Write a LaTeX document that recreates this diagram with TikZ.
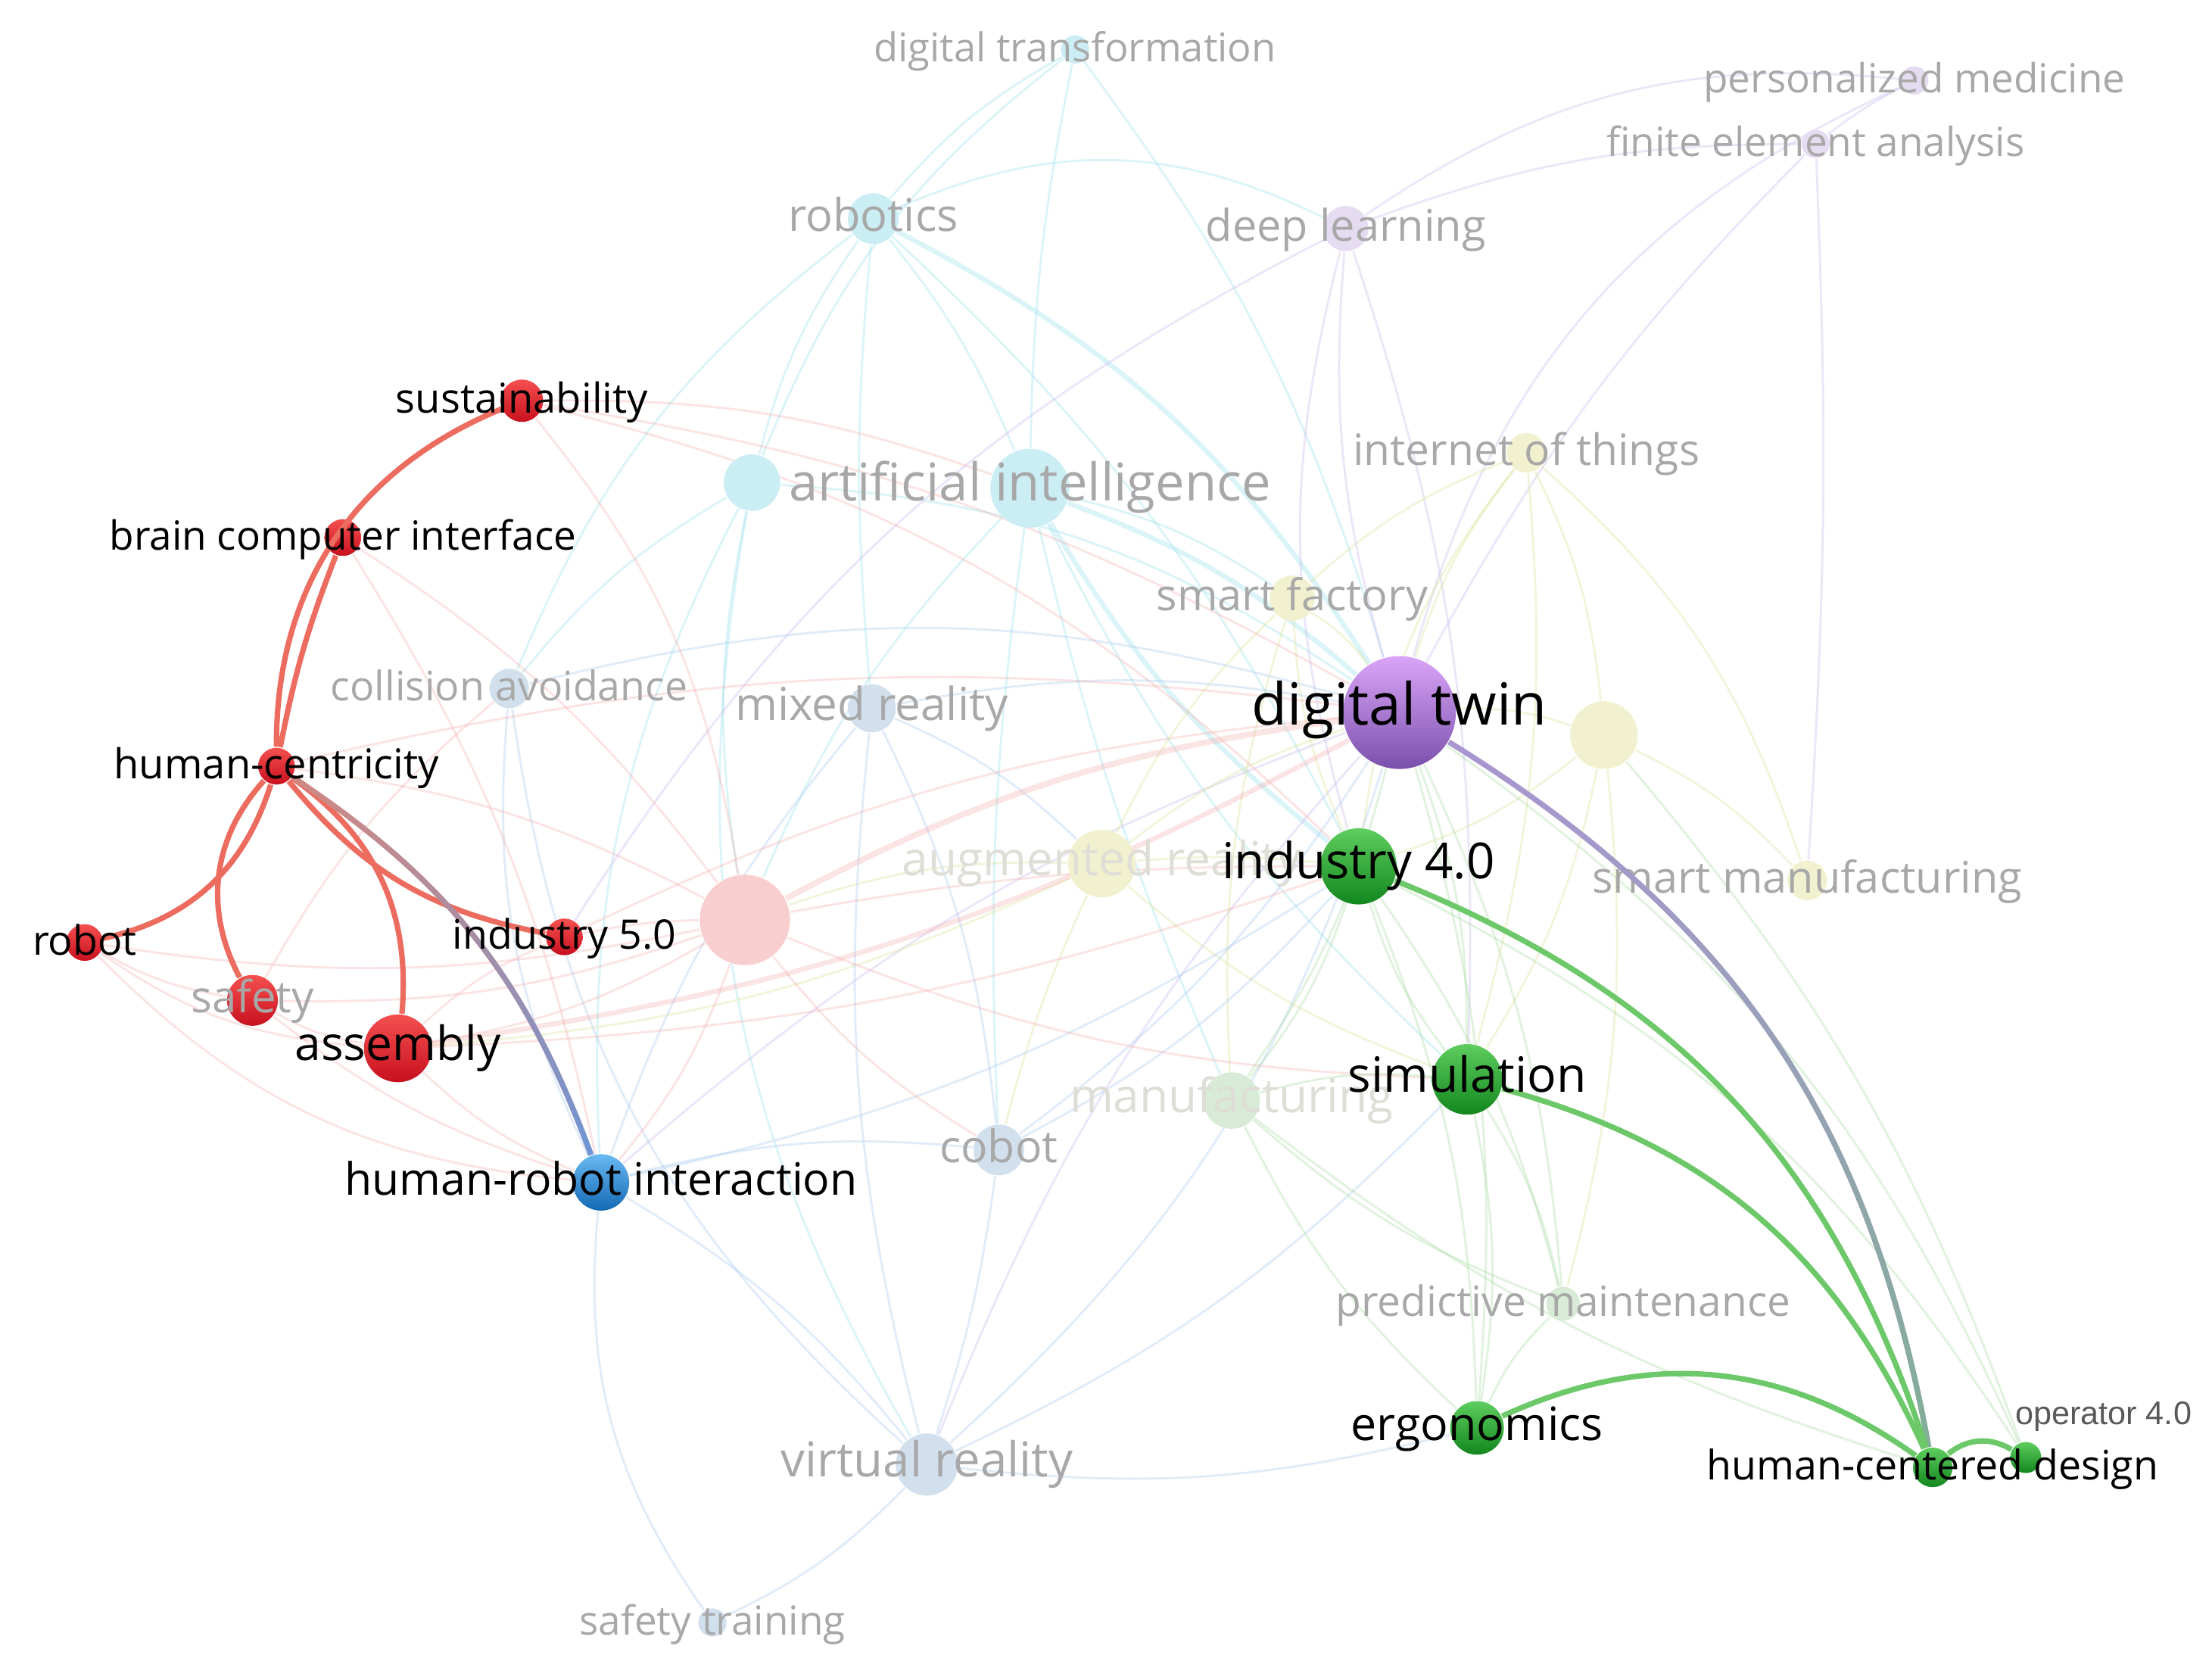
\documentclass[tikz,border=0pt]{standalone}
\usepackage{fontspec}
\setmainfont{Open Sans}
\newfontfamily\arialfont{Liberation Sans}
\usepackage{tikz}
\usetikzlibrary{fadings}

\pgfdeclarelayer{back}
\pgfdeclarelayer{front}
\pgfdeclarelayer{top}
\pgfsetlayers{back,main,front,top}

\definecolor{red_t}{RGB}{245,80,80}
\definecolor{red_b}{RGB}{200,16,30}
\definecolor{green_t}{RGB}{95,205,95}
\definecolor{green_b}{RGB}{18,135,30}
\definecolor{purple_t}{RGB}{218,165,248}
\definecolor{purple_b}{RGB}{122,80,172}
\definecolor{blue_t}{RGB}{105,185,242}
\definecolor{blue_b}{RGB}{20,105,180}
\definecolor{f_cyan}{RGB}{202,238,243}
\definecolor{f_purple}{RGB}{230,220,241}
\definecolor{f_yellow}{RGB}{241,241,208}
\definecolor{f_blue}{RGB}{210,224,238}
\definecolor{f_pink}{RGB}{248,206,206}
\definecolor{f_green}{RGB}{216,235,214}
\definecolor{lab_g}{RGB}{168,168,168}
\definecolor{lab_f}{RGB}{222,222,214}
\definecolor{e_red}{RGB}{236,108,96}
\definecolor{e_green}{RGB}{108,200,104}
\definecolor{e_purple}{RGB}{170,150,210}
\definecolor{e_blue}{RGB}{110,150,215}
\definecolor{e_grey}{RGB}{130,175,150}
\definecolor{ef_cyan}{RGB}{160,225,236}
\definecolor{ef_purple}{RGB}{205,188,238}
\definecolor{ef_yellow}{RGB}{222,228,160}
\definecolor{ef_blue}{RGB}{175,205,240}
\definecolor{ef_pink}{RGB}{244,170,170}
\definecolor{ef_green}{RGB}{175,220,170}

\begin{document}
\begin{tikzpicture}[
		node_red/.style={circle,inner sep=0pt,top color=red_t,bottom color=red_b},
		node_green/.style={circle,inner sep=0pt,top color=green_t,bottom color=green_b},
		node_purple/.style={circle,inner sep=0pt,top color=purple_t,bottom color=purple_b},
		node_blue/.style={circle,inner sep=0pt,top color=blue_t,bottom color=blue_b},
		node_faint/.style={circle,inner sep=0pt,draw=none},
		lab_dark/.style={text=black,inner sep=0pt,text height=0.72em,text depth=0.22em},
		lab_grey/.style={text=lab_g,inner sep=0pt,text height=0.72em,text depth=0.22em},
		edge_red/.style={draw=e_red,line width=1.1pt},
		edge_green/.style={draw=e_green,line width=1.1pt},
		edge_cyan/.style={draw=ef_cyan,line width=0.45pt,opacity=0.38},
		edge_purple/.style={draw=ef_purple,line width=0.45pt,opacity=0.38},
		edge_yellow/.style={draw=ef_yellow,line width=0.45pt,opacity=0.38},
		edge_blue/.style={draw=ef_blue,line width=0.45pt,opacity=0.38},
		edge_pink/.style={draw=ef_pink,line width=0.45pt,opacity=0.32},
		edge_lgreen/.style={draw=ef_green,line width=0.45pt,opacity=0.38}]

		\useasboundingbox (0,0) rectangle (15.68,-11.86);

		% faint clusters
		\node[node_faint,fill=f_cyan,minimum size=0.20cm] (dig_trans) at (7.62,-0.35) {};
		\node[node_faint,fill=f_cyan,minimum size=0.36cm] (robotics) at (6.19,-1.55) {};
		\node[node_faint,fill=f_cyan,minimum size=0.56cm] (art_int) at (7.30,-3.46) {};
		\node[node_faint,fill=f_cyan,minimum size=0.40cm] (ai_b) at (5.33,-3.42) {};
		\node[node_faint,fill=f_purple,minimum size=0.20cm] (pers_med) at (13.57,-0.57) {};
		\node[node_faint,fill=f_purple,minimum size=0.20cm] (fin_elem) at (12.87,-1.02) {};
		\node[node_faint,fill=f_purple,minimum size=0.32cm] (deep_learn) at (9.54,-1.62) {};
		\node[node_faint,fill=f_yellow,minimum size=0.28cm] (iot) at (10.82,-3.21) {};
		\node[node_faint,fill=f_yellow,minimum size=0.32cm] (smart_fac) at (9.16,-4.24) {};
		\node[node_faint,fill=f_yellow,minimum size=0.48cm] (yel_b) at (11.37,-5.21) {};
		\node[node_faint,fill=f_yellow,minimum size=0.48cm] (aug_real) at (7.81,-6.12) {};
		\node[node_faint,fill=f_yellow,minimum size=0.28cm] (smart_man) at (12.81,-6.24) {};
		\node[node_faint,fill=f_blue,minimum size=0.28cm] (coll_av) at (3.61,-4.88) {};
		\node[node_faint,fill=f_blue,minimum size=0.34cm] (mixed_real) at (6.18,-5.02) {};
		\node[node_faint,fill=f_blue,minimum size=0.36cm] (cobot) at (7.08,-8.15) {};
		\node[node_faint,fill=f_blue,minimum size=0.44cm] (virt_real) at (6.57,-10.38) {};
		\node[node_faint,fill=f_blue,minimum size=0.20cm] (safety_tr) at (5.05,-11.50) {};
		\node[node_faint,fill=f_pink,minimum size=0.64cm] (pink_b) at (5.28,-6.52) {};
		\node[node_faint,fill=f_green,minimum size=0.40cm] (manufact) at (8.73,-7.80) {};
		\node[node_faint,fill=f_green,minimum size=0.24cm] (pred_main) at (11.08,-9.24) {};

		\node[lab_grey,font=\fontsize{8}{9}\selectfont] (dig_trans_l) at (dig_trans) {digital transformation};
		\node[lab_grey,font=\fontsize{9.1}{10}\selectfont] (robotics_l) at (robotics) {robotics};
		\node[lab_grey,font=\fontsize{10.5}{12}\selectfont] (art_int_l) at (art_int) {artificial intelligence};
		\node[lab_grey,font=\fontsize{8.1}{9}\selectfont] (pers_med_l) at (pers_med) {personalized medicine};
		\node[lab_grey,font=\fontsize{8.1}{9}\selectfont] (fin_elem_l) at (fin_elem) {finite element analysis};
		\node[lab_grey,font=\fontsize{8.8}{10}\selectfont] (deep_learn_l) at (deep_learn) {deep learning};
		\node[lab_grey,font=\fontsize{8.7}{10}\selectfont] (iot_l) at (iot) {internet of things};
		\node[lab_grey,font=\fontsize{8.8}{10}\selectfont] (smart_fac_l) at (smart_fac) {smart factory};
		\node[lab_grey,font=\fontsize{8.8}{10}\selectfont] (smart_man_l) at (smart_man) {smart manufacturing};
		\node[lab_grey,font=\fontsize{8.2}{9}\selectfont] (coll_av_l) at (coll_av) {collision avoidance};
		\node[lab_grey,font=\fontsize{9.2}{10}\selectfont] (mixed_real_l) at (mixed_real) {mixed reality};
		\node[lab_grey,font=\fontsize{9}{10}\selectfont] (cobot_l) at (cobot) {cobot};
		\node[lab_grey,font=\fontsize{9.7}{11}\selectfont] (virt_real_l) at (virt_real) {virtual reality};
		\node[lab_grey,font=\fontsize{8.1}{9}\selectfont] (safety_tr_l) at (safety_tr) {safety training};
		\node[lab_grey,text=lab_f,font=\fontsize{9.5}{11}\selectfont] (manufact_l) at (manufact) {manufacturing};
		\node[lab_grey,font=\fontsize{8.4}{9}\selectfont] (pred_main_l) at (pred_main) {predictive maintenance};
		\node[lab_grey,text=lab_f,font=\fontsize{9.5}{11}\selectfont] (aug_real_l) at (aug_real) {augmented reality};

		% highlighted nodes
		\begin{pgfonlayer}{front}
		\node[node_red,minimum size=0.30cm] (sustain) at (3.70,-2.84) {};
		\node[node_red,minimum size=0.26cm] (bci) at (2.43,-3.81) {};
		\node[node_red,minimum size=0.26cm] (human_cen) at (1.96,-5.43) {};
		\node[node_red,minimum size=0.26cm] (robot) at (0.60,-6.68) {};
		\node[node_red,minimum size=0.36cm] (safety) at (1.79,-7.09) {};
		\node[node_red,minimum size=0.48cm] (assembly) at (2.82,-7.43) {};
		\node[node_red,minimum size=0.26cm] (ind_50) at (4.00,-6.64) {};
		\node[node_blue,minimum size=0.40cm] (hri) at (4.26,-8.38) {};
		\node[node_purple,minimum size=0.80cm] (dig_twin) at (9.92,-5.05) {};
		\node[node_green,minimum size=0.54cm] (ind_40) at (9.63,-6.14) {};
		\node[node_green,minimum size=0.50cm] (simul) at (10.40,-7.65) {};
		\node[node_green,minimum size=0.38cm] (ergo) at (10.47,-10.12) {};
		\node[node_green,minimum size=0.28cm] (hcd) at (13.70,-10.40) {};
		\node[node_green,minimum size=0.22cm] (op_40) at (14.36,-10.33) {};
		\end{pgfonlayer}

		\begin{pgfonlayer}{top}
		\node[lab_dark,font=\fontsize{8.3}{9}\selectfont] (sustain_l) at (sustain) {sustainability};
		\node[lab_dark,font=\fontsize{8.1}{9}\selectfont] (bci_l) at (bci) {brain computer interface};
		\node[lab_dark,font=\fontsize{8.3}{9}\selectfont] (human_cen_l) at (human_cen) {human-centricity};
		\node[lab_dark,font=\fontsize{8.2}{9}\selectfont] (robot_l) at (robot) {robot};
		\node[lab_grey,font=\fontsize{8.9}{10}\selectfont] (safety_l) at (safety) {safety};
		\node[lab_dark,font=\fontsize{9.5}{11}\selectfont] (assembly_l) at (assembly) {assembly};
		\node[lab_dark,font=\fontsize{8.2}{9}\selectfont] (ind_50_l) at (ind_50) {industry 5.0};
		\node[lab_dark,font=\fontsize{9}{10}\selectfont] (hri_l) at (hri) {human-robot interaction};
		\node[lab_dark,font=\fontsize{11.7}{13}\selectfont] (dig_twin_l) at (dig_twin) {digital twin};
		\node[lab_dark,font=\fontsize{10}{11}\selectfont] (ind_40_l) at (ind_40) {industry 4.0};
		\node[lab_dark,font=\fontsize{9.8}{11}\selectfont] (simul_l) at (simul) {simulation};
		\node[lab_dark,font=\fontsize{9.3}{10}\selectfont] (ergo_l) at (ergo) {ergonomics};
		\node[lab_dark,font=\fontsize{8.2}{9}\selectfont] (hcd_l) at (hcd) {human-centered design};
		\node[lab_grey,text=black!65,font=\arialfont\fontsize{6.6}{8}\selectfont] (op_40_l) at (14.91,-10.01) {operator 4.0};
		\end{pgfonlayer}

		% faint links
		\begin{pgfonlayer}{back}
		\draw[edge_cyan] (dig_trans) edge[bend right=10] node{} (robotics);
		\draw[edge_cyan] (dig_trans) edge[bend right=5] node{} (art_int);
		\draw[edge_cyan] (dig_trans) edge[bend right=15] node{} (ai_b);
		\draw[edge_cyan] (dig_trans) edge[bend left=10] node{} (dig_twin);
		\draw[edge_cyan] (robotics) edge[bend left=8] node{} (art_int);
		\draw[edge_cyan] (robotics) edge[bend right=10] node{} (ai_b);
		\draw[edge_cyan,line width=1pt] (robotics) edge[bend left=15] node{} (dig_twin);
		\draw[edge_cyan] (robotics) edge[bend left=25] node{} (deep_learn);
		\draw[edge_cyan] (robotics) edge[bend left=10] node{} (ind_40);
		\draw[edge_cyan] (robotics) edge[bend right=5] node{} (mixed_real);
		\draw[edge_cyan] (robotics) edge[bend right=15] node{} (coll_av);
		\draw[edge_cyan,line width=1pt] (art_int) edge[bend left=10] node{} (dig_twin);
		\draw[edge_cyan,line width=1pt] (art_int) edge[bend right=10] node{} (ind_40);
		\draw[edge_cyan] (art_int) edge[bend left=10] node{} (smart_fac);
		\draw[edge_cyan] (art_int) edge[bend right=10] node{} (simul);
		\draw[edge_cyan] (art_int) edge[bend right=5] node{} (manufact);
		\draw[edge_cyan] (art_int) edge[bend right=10] node{} (pink_b);
		\draw[edge_cyan] (art_int) edge[bend right=5] node{} (cobot);
		\draw[edge_cyan] (ai_b) edge[bend right=10] node{} (pink_b);
		\draw[edge_cyan] (ai_b) edge[bend right=15] node{} (hri);
		\draw[edge_cyan] (ai_b) edge[bend left=15] node{} (dig_twin);
		\draw[edge_cyan] (ai_b) edge[bend right=10] node{} (coll_av);
		\draw[edge_cyan] (ai_b) edge[bend right=20] node{} (virt_real);
		\draw[edge_purple] (deep_learn) edge[bend right=10] node{} (dig_twin);
		\draw[edge_purple] (deep_learn) edge[bend right=15] node{} (ind_40);
		\draw[edge_purple] (deep_learn) edge[bend left=10] node{} (simul);
		\draw[edge_purple] (deep_learn) edge[bend left=10] node{} (fin_elem);
		\draw[edge_purple] (deep_learn) edge[bend right=15] node{} (ind_50);
		\draw[edge_purple] (fin_elem) edge[bend left=5] node{} (pers_med);
		\draw[edge_purple] (fin_elem) edge[bend right=8] node{} (dig_twin);
		\draw[edge_purple] (fin_elem) edge[bend left=3] node{} (smart_man);
		\draw[edge_purple] (pers_med) edge[bend right=25] node{} (dig_twin);
		\draw[edge_purple] (pers_med) edge[bend right=20] node{} (deep_learn);
		\draw[edge_purple] (dig_twin) edge[bend right=10] node{} (virt_real);
		\draw[edge_purple] (dig_twin) edge[bend right=10] node{} (hri);
		\draw[edge_yellow] (iot) edge[bend right=10] node{} (dig_twin);
		\draw[edge_yellow] (iot) edge[bend right=10] node{} (smart_fac);
		\draw[edge_yellow] (iot) edge[bend right=15] node{} (ind_40);
		\draw[edge_yellow] (iot) edge[bend left=10] node{} (yel_b);
		\draw[edge_yellow] (iot) edge[bend left=15] node{} (smart_man);
		\draw[edge_yellow] (iot) edge[bend left=10] node{} (simul);
		\draw[edge_yellow] (smart_fac) edge[bend left=10] node{} (dig_twin);
		\draw[edge_yellow] (smart_fac) edge[bend right=10] node{} (ind_40);
		\draw[edge_yellow] (smart_fac) edge[bend right=10] node{} (aug_real);
		\draw[edge_yellow] (smart_fac) edge[bend right=10] node{} (manufact);
		\draw[edge_yellow] (yel_b) edge[bend right=10] node{} (dig_twin);
		\draw[edge_yellow] (yel_b) edge[bend left=10] node{} (ind_40);
		\draw[edge_yellow] (yel_b) edge[bend left=10] node{} (smart_man);
		\draw[edge_yellow] (yel_b) edge[bend left=10] node{} (simul);
		\draw[edge_yellow] (yel_b) edge[bend left=10] node{} (pred_main);
		\draw[edge_yellow] (aug_real) edge[bend left=10] node{} (dig_twin);
		\draw[edge_yellow] (aug_real) edge[bend left=5] node{} (ind_40);
		\draw[edge_yellow] (aug_real) edge[bend right=10] node{} (simul);
		\draw[edge_yellow] (aug_real) edge[bend right=10] node{} (pink_b);
		\draw[edge_yellow] (aug_real) edge[bend right=5] node{} (cobot);
		\draw[edge_yellow] (aug_real) edge[bend left=10] node{} (assembly);
		\draw[edge_blue] (mixed_real) edge[bend left=10] node{} (dig_twin);
		\draw[edge_blue] (mixed_real) edge[bend left=10] node{} (cobot);
		\draw[edge_blue] (mixed_real) edge[bend right=10] node{} (virt_real);
		\draw[edge_blue] (mixed_real) edge[bend right=10] node{} (hri);
		\draw[edge_blue] (mixed_real) edge[bend left=10] node{} (aug_real);
		\draw[edge_blue] (coll_av) edge[bend right=15] node{} (hri);
		\draw[edge_blue] (coll_av) edge[bend left=15] node{} (dig_twin);
		\draw[edge_blue] (coll_av) edge[bend right=20] node{} (virt_real);
		\draw[edge_blue] (cobot) edge[bend left=5] node{} (virt_real);
		\draw[edge_blue] (cobot) edge[bend right=10] node{} (hri);
		\draw[edge_blue] (cobot) edge[bend right=10] node{} (ind_40);
		\draw[edge_blue] (cobot) edge[bend right=10] node{} (dig_twin);
		\draw[edge_blue] (virt_real) edge[bend right=10] node{} (hri);
		\draw[edge_blue] (virt_real) edge[bend right=15] node{} (dig_twin);
		\draw[edge_blue] (virt_real) edge[bend left=10] node{} (safety_tr);
		\draw[edge_blue] (virt_real) edge[bend right=10] node{} (ergo);
		\draw[edge_blue] (virt_real) edge[bend right=10] node{} (simul);
		\draw[edge_blue] (safety_tr) edge[bend left=20] node{} (hri);
		\draw[edge_blue] (hri) edge[bend right=10] node{} (ind_40);
		\draw[edge_pink,line width=1.2pt] (pink_b) edge[bend left=10] node{} (dig_twin);
		\draw[edge_pink] (pink_b) edge[bend left=5] node{} (ind_40);
		\draw[edge_pink] (pink_b) edge[bend left=10] node{} (assembly);
		\draw[edge_pink] (pink_b) edge[bend left=10] node{} (hri);
		\draw[edge_pink] (pink_b) edge[bend right=10] node{} (human_cen);
		\draw[edge_pink] (pink_b) edge[bend right=5] node{} (ind_50);
		\draw[edge_pink] (pink_b) edge[bend left=10] node{} (safety);
		\draw[edge_pink] (pink_b) edge[bend left=10] node{} (robot);
		\draw[edge_pink] (pink_b) edge[bend right=15] node{} (sustain);
		\draw[edge_pink] (pink_b) edge[bend right=10] node{} (bci);
		\draw[edge_pink] (pink_b) edge[bend right=10] node{} (cobot);
		\draw[edge_pink] (pink_b) edge[bend right=10] node{} (simul);
		\draw[edge_pink] (sustain) edge[bend left=10] node{} (art_int);
		\draw[edge_pink] (sustain) edge[bend left=10] node{} (dig_twin);
		\draw[edge_pink] (sustain) edge[bend left=15] node{} (ind_40);
		\draw[edge_pink] (bci) edge[bend left=10] node{} (hri);
		\draw[edge_pink] (robot) edge[bend right=10] node{} (safety);
		\draw[edge_pink] (robot) edge[bend right=15] node{} (assembly);
		\draw[edge_pink] (robot) edge[bend right=20] node{} (hri);
		\draw[edge_pink] (safety) edge[bend right=10] node{} (assembly);
		\draw[edge_pink] (safety) edge[bend right=10] node{} (hri);
		\draw[edge_pink] (safety) edge[bend left=10] node{} (coll_av);
		\draw[edge_pink] (assembly) edge[bend right=10] node{} (hri);
		\draw[edge_pink,line width=1pt] (assembly) edge[bend right=10] node{} (dig_twin);
		\draw[edge_pink] (assembly) edge[bend right=8] node{} (ind_40);
		\draw[edge_pink] (assembly) edge[bend left=10] node{} (ind_50);
		\draw[edge_pink] (ind_50) edge[bend left=10] node{} (dig_twin);
		\draw[edge_pink] (human_cen) edge[bend left=10] node{} (dig_twin);
		\draw[edge_lgreen] (manufact) edge[bend right=10] node{} (ind_40);
		\draw[edge_lgreen] (manufact) edge[bend left=10] node{} (simul);
		\draw[edge_lgreen] (manufact) edge[bend right=10] node{} (ergo);
		\draw[edge_lgreen] (manufact) edge[bend right=10] node{} (dig_twin);
		\draw[edge_lgreen] (manufact) edge[bend right=10] node{} (pred_main);
		\draw[edge_lgreen] (manufact) edge[bend right=10] node{} (hcd);
		\draw[edge_lgreen] (simul) edge[bend left=10] node{} (ergo);
		\draw[edge_lgreen] (simul) edge[bend right=10] node{} (dig_twin);
		\draw[edge_lgreen] (simul) edge[bend left=10] node{} (pred_main);
		\draw[edge_lgreen] (simul) edge[bend left=10] node{} (ind_40);
		\draw[edge_lgreen] (ergo) edge[bend right=10] node{} (ind_40);
		\draw[edge_lgreen] (ergo) edge[bend right=10] node{} (dig_twin);
		\draw[edge_lgreen] (ergo) edge[bend left=10] node{} (pred_main);
		\draw[edge_lgreen] (pred_main) edge[bend right=10] node{} (dig_twin);
		\draw[edge_lgreen] (pred_main) edge[bend right=10] node{} (ind_40);
		\draw[edge_lgreen] (op_40) edge[bend right=15] node{} (ind_40);
		\draw[edge_lgreen] (op_40) edge[bend right=15] node{} (dig_twin);
		\draw[edge_lgreen] (op_40) edge[bend right=10] node{} (yel_b);
		\end{pgfonlayer}

		% highlighted links
		\begin{pgfonlayer}{front}
		\draw[edge_red] (human_cen) edge[bend left=34] node{} (sustain);
		\draw[edge_red] (human_cen) edge[bend left=5] node{} (bci);
		\draw[edge_red] (human_cen) edge[bend left=30] node{} (robot);
		\draw[edge_red] (human_cen) edge[bend right=35] node{} (safety);
		\draw[edge_red] (human_cen) edge[bend left=30] node{} (assembly);
		\draw[edge_red] (human_cen) edge[bend right=20] node{} (ind_50);
		\draw[edge_red,draw=e_red!80!black!70] (human_cen) to[bend left=18] (hri);
		\draw[edge_red,draw=e_blue,path fading=north] (human_cen) to[bend left=18] (hri);
		\draw[edge_red,draw=e_purple] (dig_twin) to[bend left=24] (hcd);
		\draw[edge_red,draw=e_grey,path fading=north] (dig_twin) to[bend left=24] (hcd);
		\draw[edge_green] (ind_40) edge[bend left=25] node{} (hcd);
		\draw[edge_green] (simul) edge[bend left=25] node{} (hcd);
		\draw[edge_green] (ergo) edge[bend left=30] node{} (hcd);
		\draw[edge_green] (hcd) edge[bend left=35] node{} (op_40);
		\end{pgfonlayer}
\end{tikzpicture}
\end{document}
